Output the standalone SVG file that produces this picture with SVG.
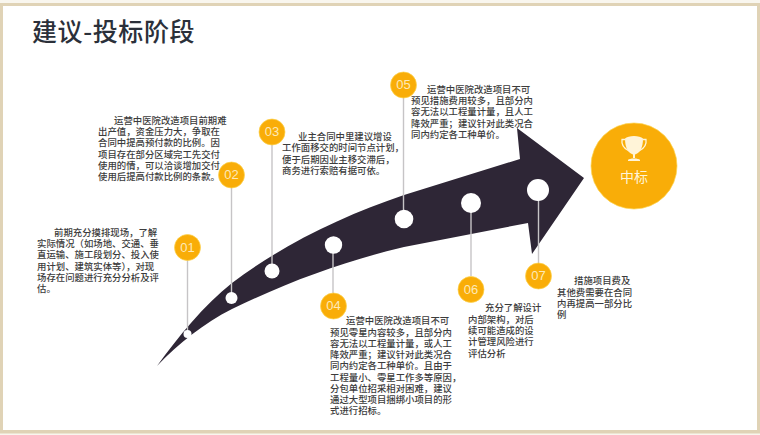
<svg xmlns="http://www.w3.org/2000/svg" width="760" height="435" viewBox="0 0 760 435">
<style>
.t{font-family:"Noto Sans CJK SC","Liberation Sans",sans-serif;font-size:9.4px;font-weight:500;fill:#3c3c3c}
.n{font-family:"Liberation Sans",Arial,sans-serif;font-size:13px;fill:#fde9b8;text-anchor:middle}
.o{fill:#f9ad08;stroke:#fcd34f;stroke-width:.7}
.w{fill:#fff}
.c{stroke:#c6c4c6;stroke-width:1.4;fill:none}
</style>
<rect width="760" height="435" fill="#f9f6ee"/>
<rect x="0" y="3" width="760" height="430.500" fill="#e0d3b6"/>
<rect x="3" y="6" width="754" height="424" fill="#fff"/>
<text x="32" y="40.500" style="font-family:'Noto Sans CJK SC',sans-serif;font-size:25px;font-weight:500;letter-spacing:.6px;fill:#2b303a">建议-投标阶段</text>
<path id="arrow" d="M157 366C178 337 204 305 232 283C285 243 345 215 404 195L520 159L517 128L584 178L532 254L528 223L404 247C345 261 290 281 232 309C204 323 178 344 157 366Z" fill="#2e2636"/>
<g id="connectors">
<line class="c" x1="187.500" y1="260" x2="187.500" y2="334"/>
<line class="c" x1="231.500" y1="188" x2="231.500" y2="298"/>
<line class="c" x1="272" y1="145" x2="272" y2="271"/>
<line class="c" x1="333" y1="245" x2="333" y2="293"/>
<line class="c" x1="403.500" y1="98" x2="403.500" y2="219"/>
<line class="c" x1="471" y1="203" x2="471" y2="276"/>
<line class="c" x1="538.500" y1="190" x2="538.500" y2="263"/>
</g>
<g id="dots">
<circle class="w" cx="187.500" cy="334" r="4"/>
<circle class="w" cx="231.500" cy="298" r="6"/>
<circle class="w" cx="272" cy="271" r="7.500"/>
<circle class="w" cx="333.500" cy="245" r="8.700"/>
<circle class="w" cx="404" cy="219" r="9.300"/>
<circle class="w" cx="471" cy="203" r="10"/>
<circle class="w" cx="538" cy="190" r="11"/>
</g>
<g id="node-01"><circle class="o" cx="187.500" cy="247.500" r="13"/><text class="n" x="187.500" y="251.500">01</text>
<text class="t"><tspan x="54" y="235.500">前期充分摸排现场，了解</tspan><tspan x="37" y="247">实际情况（如场地、交通、垂</tspan><tspan x="37" y="258">直运输、施工段划分、投入使</tspan><tspan x="37" y="269.500">用计划、建筑实体等），对现</tspan><tspan x="37" y="281">场存在问题进行充分分析及评</tspan><tspan x="37" y="292">估。</tspan></text></g>
<g id="node-02"><circle class="o" cx="231.500" cy="175" r="13"/><text class="n" x="231.500" y="179">02</text>
<text class="t"><tspan x="114" y="123.500">运营中医院改造项目前期难</tspan><tspan x="98" y="135">出产值，资金压力大，争取在</tspan><tspan x="98" y="146">合同中提高预付款的比例。因</tspan><tspan x="98" y="157.500">项目存在部分区域完工先交付</tspan><tspan x="98" y="169">使用的情，可以洽谈增加交付</tspan><tspan x="98" y="180">使用后提高付款比例的条款。</tspan></text></g>
<g id="node-03"><circle class="o" cx="272" cy="132" r="13"/><text class="n" x="272" y="136">03</text>
<text class="t"><tspan x="298" y="139.500">业主合同中里建议增设</tspan><tspan x="282" y="151">工作面移交的时间节点计划，</tspan><tspan x="282" y="162.500">便于后期因业主移交滞后，</tspan><tspan x="282" y="174">商务进行索赔有据可依。</tspan></text></g>
<g id="node-04"><circle class="o" cx="333.500" cy="306" r="13"/><text class="n" x="333.500" y="310">04</text>
<text class="t"><tspan x="346" y="324">运营中医院改造项目不可</tspan><tspan x="330" y="335.500">预见零星内容较多，且部分内</tspan><tspan x="330" y="346.500">容无法以工程量计量，或人工</tspan><tspan x="330" y="357.500">降效严重；建议针对此类况合</tspan><tspan x="330" y="369">同内约定各工种单价。且由于</tspan><tspan x="330" y="380.500">工程量小、零星工作多等原因，</tspan><tspan x="330" y="391.500">分包单位招采相对困难，建议</tspan><tspan x="330" y="403">通过大型项目捆绑小项目的形</tspan><tspan x="330" y="414">式进行招标。</tspan></text></g>
<g id="node-05"><circle class="o" cx="403.500" cy="85" r="13"/><text class="n" x="403.500" y="89">05</text>
<text class="t"><tspan x="427" y="92.500">运营中医院改造项目不可</tspan><tspan x="411" y="104">预见措施费用较多，且部分内</tspan><tspan x="411" y="115">容无法以工程量计量，且人工</tspan><tspan x="411" y="126.500">降效严重；建议针对此类况合</tspan><tspan x="411" y="138">同内约定各工种单价。</tspan></text></g>
<g id="node-06"><circle class="o" cx="471" cy="289.500" r="13"/><text class="n" x="471" y="293.500">06</text>
<text class="t"><tspan x="485" y="311">充分了解设计</tspan><tspan x="468" y="322.500">内部架构，对后</tspan><tspan x="468" y="333.500">续可能造成的设</tspan><tspan x="468" y="345">计管理风险进行</tspan><tspan x="468" y="356.500">评估分析</tspan></text></g>
<g id="node-07"><circle class="o" cx="538.500" cy="276" r="13"/><text class="n" x="538.500" y="280">07</text>
<text class="t"><tspan x="574" y="284">措施项目费及</tspan><tspan x="557" y="295.500">其他费需要在合同</tspan><tspan x="557" y="306.500">内再提高一部分比</tspan><tspan x="557" y="318">例</tspan></text></g>
<g id="node-win"><circle class="o" cx="634" cy="166" r="43"/>
<path d="M623 139H645M625 138.500C625 148 628 153 634 155C640 153 643 148 643 138.500C640 135 628 135 625 138.500Z" fill="#fff4d8"/>
<path d="M625 139.500H622C621 146 625 149 629 151M643 139.500H646C647 146 643 149 639 151" fill="none" stroke="#fff4d8" stroke-width="1.300"/>
<path d="M633 154H635V158H633ZM628 160C629 158 639 158 640 160V161H628Z" fill="#fff4d8"/>
<text x="634" y="182" text-anchor="middle" style="font-family:'Noto Sans CJK SC',sans-serif;font-size:14px;fill:#fff4d8">中标</text></g>
</svg>
